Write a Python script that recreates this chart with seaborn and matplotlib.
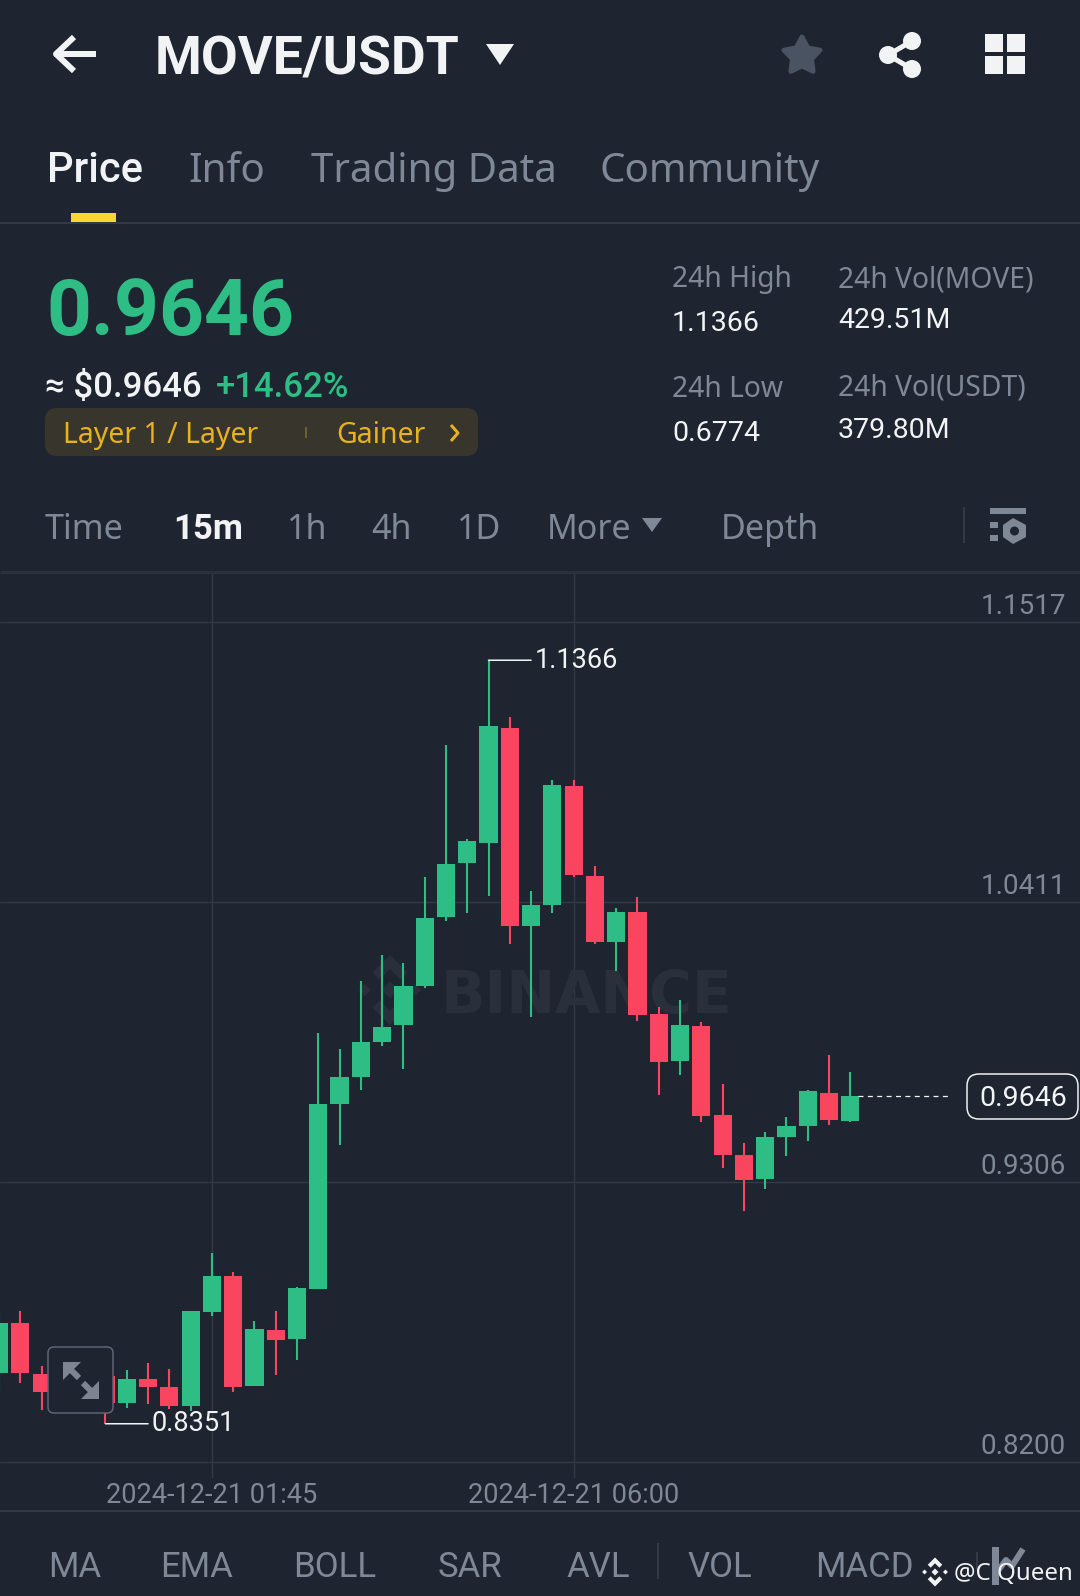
import matplotlib
matplotlib.use("Agg")
import matplotlib.pyplot as plt
import numpy as np
import pandas as pd
import seaborn as sns
from matplotlib.patches import FancyBboxPatch, Polygon, Rectangle, Circle
from matplotlib.transforms import ScaledTranslation

# 15m candles, values (index 3 and 4 sit behind the expand button)
opens = [0.8553, 0.8748, 0.8546, 0.8478, 0.8440, 0.8540, 0.8432, 0.8527, 0.8495, 0.8422,
         0.8791, 0.8934, 0.8500, 0.8722, 0.8687, 0.8884, 0.9612, 0.9721, 0.9860, 0.9924,
         1.0080, 1.0351, 1.0567, 1.0643, 1.1100, 1.0318, 1.0398, 1.0868, 1.0514, 1.0253,
         1.0371, 0.9968, 0.9782, 0.9922, 0.9570, 0.9412, 0.9316, 0.9485, 0.9528, 0.9659, 0.9546]
highs = [0.8788, 0.8796, 0.8580, 0.8520, 0.8560, 0.8590, 0.8563, 0.8592, 0.8568, 0.8797,
         0.9027, 0.8949, 0.8758, 0.8797, 0.8892, 0.9895, 0.9831, 1.0098, 1.0203, 1.0169,
         1.0509, 1.1030, 1.0659, 1.1366, 1.1143, 1.0454, 1.0892, 1.0892, 1.0553, 1.0386,
         1.0430, 0.9995, 1.0024, 0.9937, 0.9694, 0.9460, 0.9503, 0.9564, 0.9667, 0.9807, 0.9739]
lows = [0.8482, 0.8513, 0.8405, 0.8420, 0.8400, 0.8351, 0.8412, 0.8429, 0.8409, 0.8403,
        0.8777, 0.8476, 0.8500, 0.8542, 0.8603, 0.8884, 0.9451, 0.9668, 0.9844, 0.9752,
        1.0071, 1.0337, 1.0368, 1.0435, 1.0246, 0.9956, 1.0369, 1.0509, 1.0247, 1.0139,
        0.9941, 0.9648, 0.9729, 0.9543, 0.9362, 0.9191, 0.9278, 0.9410, 0.9469, 0.9531, 0.9543]
closes = [0.8748, 0.8553, 0.8478, 0.8440, 0.8520, 0.8433, 0.8528, 0.8496, 0.8422, 0.8796,
          0.8936, 0.8497, 0.8724, 0.8682, 0.8887, 0.9612, 0.9720, 0.9859, 0.9919, 1.0078,
          1.0347, 1.0563, 1.0651, 1.1105, 1.0315, 1.0401, 1.0875, 1.0517, 1.0253, 1.0371,
          0.9964, 0.9780, 0.9924, 0.9568, 0.9414, 0.9314, 0.9485, 0.9528, 0.9666, 0.9549, 0.9646]

y_ticks = [0.8200, 0.9306, 1.0411, 1.1517]
x_ticks = [10, 27]
x_labels = ["2024-12-21 01:45", "2024-12-21 06:00"]
high_idx, low_idx = 23, 5
last_price = 0.9646

tabs = ["Price", "Info", "Trading Data", "Community"]
intervals = ["Time", "15m", "1h", "4h", "1D", "More", "Depth"]
indicators = ["MA", "EMA", "BOLL", "SAR", "AVL", "VOL", "MACD"]

BG = "#1f2530"
GREEN = "#2ebd85"
RED = "#f9455f"
GRID = "#333a46"
GREY = "#7f8896"
WHITE = "#f2f3f5"
YELLOW = "#e8b21f"
NOTO = ["Noto Sans", "DejaVu Sans"]

sns.set_theme(style="darkgrid", rc={
    "figure.facecolor": BG,
    "axes.facecolor": BG,
    "grid.color": GRID,
    "grid.linewidth": 1.0,
})
plt.rcParams["font.family"] = ["Roboto", "DejaVu Sans"]

W, H = 1080, 1596
fig = plt.figure(figsize=(W / 100, H / 100), dpi=100)

# chart area in pixels: y 572..1478
ax = fig.add_axes([0, (H - 1478) / H, 1, (1478 - 572) / H])

# ui layer, plain pixel coordinates
ui = fig.add_axes([0, 0, 1, 1], zorder=5)
ui.set_xlim(0, W)
ui.set_ylim(H, 0)
ui.axis("off")


def txt(x, y, s, size=20, color=GREY, weight="normal", ha="left", va="baseline", **kw):
    ui.text(x, y, s, fontsize=size, color=color, fontweight=weight, ha=ha, va=va, **kw)


def line(xs, ys, color=GRID, px=2, **kw):
    ui.plot(xs, ys, color=color, lw=px * 0.72, solid_capstyle="butt", **kw)


def round_box(x0, y0, x1, y1, r, face, edge="none", px=0):
    ui.add_patch(FancyBboxPatch((x0, y0), x1 - x0, y1 - y0, boxstyle=f"round,pad=0,rounding_size={r}",
                                fc=face, ec=edge, lw=px * 0.72))


def logo(target, cx, cy, s, color, **kw):
    # binance mark from small diamonds
    for dx, dy, r in [(0, 0, 0.24), (-0.72, 0, 0.17), (0.72, 0, 0.17)]:
        x, y = cx + dx * s, cy + dy * s
        r = r * s
        target.add_patch(Polygon([(x - r, y), (x, y - r), (x + r, y), (x, y + r)], fc=color, ec="none", **kw))
    for sgn in (-1, 1):
        pts = [(cx - 0.5 * s, cy + sgn * 0.5 * s), (cx, cy + sgn * 1.0 * s), (cx + 0.5 * s, cy + sgn * 0.5 * s),
               (cx + 0.3 * s, cy + sgn * 0.3 * s), (cx, cy + sgn * 0.6 * s), (cx - 0.3 * s, cy + sgn * 0.3 * s)]
        target.add_patch(Polygon(pts, fc=color, ec="none", **kw))


# ---- candles
df = pd.DataFrame({"idx": range(len(opens)), "open": opens, "high": highs, "low": lows, "close": closes})
df["up"] = df["close"] >= df["open"]
df["body"] = (df["close"] - df["open"]).abs()
df["base"] = df[["open", "close"]].min(axis=1)

ax.vlines(df["idx"][df["up"]], df["low"][df["up"]], df["high"][df["up"]], color=GREEN, lw=1.5, zorder=2)
ax.vlines(df["idx"][~df["up"]], df["low"][~df["up"]], df["high"][~df["up"]], color=RED, lw=1.5, zorder=2)
for up, col in [(True, GREEN), (False, RED)]:
    part = df[df["up"] == up]
    sns.barplot(data=part, x="idx", y="body", bottom=part["base"].values, native_scale=True, color=col,
                saturation=1, width=0.855, linewidth=0, errorbar=None, ax=ax, zorder=3)

ax.set_xlim(0.0423, 50.795)
ax.set_ylim(0.81368, 1.17144)
ax.set_axisbelow(True)
ax.set_xticks(x_ticks, x_labels)
ax.set_yticks(y_ticks, [f"{v:.4f}" for v in y_ticks])
ax.set_xlabel("")
ax.set_ylabel("")
ax.tick_params(axis="x", length=0, pad=3, labelsize=19.5, labelcolor=GREY)
ax.tick_params(axis="y", length=0, labelleft=False, labelright=True, pad=-10, labelsize=20, labelcolor=GREY)
for t in ax.get_yticklabels():
    t.set_ha("right")
    t.set_va("bottom")
    t.set_transform(t.get_transform() + ScaledTranslation(0, 2 / 100, fig.dpi_scale_trans))
for s in ax.spines.values():
    s.set_visible(False)

# watermark sits under the candles
ax.text(441, 1013, "BINANCE", transform=ui.transData, fontsize=42, fontweight="bold", color="#2a303b",
        family="DejaVu Sans", zorder=1)
logo(ax, 390, 990, 35, "#2a303b", transform=ui.transData, zorder=1)

# high / low callouts
ax.annotate("1.1366", xy=(high_idx, highs[high_idx]), xytext=(33, 0), textcoords="offset points",
            color=WHITE, fontsize=19.5, va="center", arrowprops=dict(arrowstyle="-", color=WHITE, lw=1.1, shrinkA=0, shrinkB=0), zorder=4)
ax.annotate("0.8351", xy=(low_idx, lows[low_idx]), xytext=(33, 0), textcoords="offset points",
            color=WHITE, fontsize=19.5, va="center", arrowprops=dict(arrowstyle="-", color=WHITE, lw=1.1, shrinkA=0, shrinkB=0), zorder=4)

# last price, dashed line and box
ax.hlines(last_price, 40.35, 44.7, color=WHITE, lw=0.9, linestyles=(0, (4, 3.5)), zorder=4)
round_box(967, 1074, 1078, 1119, 12, BG, WHITE, 1.5)
txt(1023, 1098, "0.9646", 20.5, WHITE, ha="center", va="center")

# expand button over the candles
round_box(48, 1347, 113, 1413, 6, BG, "#5f6673", 1.5)
ui.add_patch(Polygon([(63, 1362), (81, 1362), (63, 1380)], fc="#7d8492", ec="none"))
ui.add_patch(Polygon([(99, 1399), (81, 1399), (99, 1381)], fc="#7d8492", ec="none"))
line([70, 79], [1369, 1378], "#7d8492", 6)
line([83, 92], [1383, 1392], "#7d8492", 6)

# ---- header
line([96, 56, 74], [54, 54, 37], WHITE, 6)
line([56, 74], [54, 71], WHITE, 6)
txt(155, 75, "MOVE/USDT", 38.5, WHITE, "bold")
ui.add_patch(Polygon([(486, 44), (514, 44), (500, 65)], fc=WHITE, ec="none"))
# star icon with a rounded outline
ang = np.radians(np.arange(10) * 36 - 90)
rad = np.where(np.arange(10) % 2 == 0, 19, 10)
ui.add_patch(Polygon(np.c_[802 + rad * np.cos(ang), 56 + rad * np.sin(ang)], fc="#4a5362", ec="#4a5362",
                     lw=3.5, joinstyle="round"))
for cx, cy in [(912, 41), (888, 55), (912, 69)]:
    ui.add_patch(Circle((cx, cy), 9, fc=WHITE, ec="none"))
line([912, 888, 912], [41, 55, 69], WHITE, 5)
for x0, y0 in [(985, 34), (1007, 34), (985, 56), (1007, 56)]:
    ui.add_patch(Rectangle((x0, y0), 18, 18, fc=WHITE, ec="none"))

txt(47, 182, tabs[0], 30, WHITE, "medium")
for x, s in zip([188, 311, 599], tabs[1:]):
    txt(x, 182, s, 29, GREY, family=NOTO)
line([0, W], [222.5, 222.5], GRID, 2)
ui.add_patch(Rectangle((71, 213), 45, 9, fc="#fcd535", ec="none"))

# ---- price block
txt(46, 335, "0.9646", 56.5, GREEN, "bold")
txt(45, 397, "≈ $0.9646", 25, WHITE, "medium")
txt(216, 397, "+14.62%", 25, GREEN, "medium")
round_box(45, 408, 478, 456, 12, "#38362c")
txt(63, 443, "Layer 1 / Layer", 20.5, YELLOW, family=NOTO)
txt(336, 443, "Gainer", 20.5, YELLOW, family=NOTO)
line([306, 306], [427, 438], "#6e5f26", 2)
line([451, 458, 451], [425, 433, 441], YELLOW, 3)

for x, y, s in [(672, 287, "24h High"), (838, 287, "24h Vol(MOVE)"),
                (672, 397, "24h Low"), (838, 396, "24h Vol(USDT)")]:
    txt(x, y, s, 20.3, GREY, family=NOTO)
for x, y, s in [(672, 331, "1.1366"), (838, 328, "429.51M"), (672, 441, "0.6774"), (838, 438, "379.80M")]:
    txt(x, y, s, 20.5, WHITE)

# ---- interval row
for x, s in zip([45, 173, 287, 371, 457, 547, 721], intervals):
    if s == "15m":
        txt(x, 539, s, 25, WHITE, "bold")
    else:
        txt(x, 539, s, 24.5, GREY, family=NOTO)
ui.add_patch(Polygon([(642, 518), (662, 518), (652, 532)], fc=GREY, ec="none"))
line([964, 964], [507, 543], GRID, 2)
ui.add_patch(Rectangle((990, 508), 36, 6, fc=GREY, ec="none"))
ui.add_patch(Rectangle((990, 522), 8, 6, fc=GREY, ec="none"))
ui.add_patch(Rectangle((990, 535), 8, 6, fc=GREY, ec="none"))
ui.add_patch(Polygon([(1013, 518), (1026, 525), (1026, 537), (1013, 544), (1003, 537), (1003, 525)], fc=GREY, ec="none"))
ui.add_patch(Circle((1014.5, 531), 4.5, fc=BG, ec="none"))
line([0, W], [572, 572], "#2b313c", 3)

# ---- footer
line([0, W], [1510.5, 1510.5], GRID, 2)
for x, s in zip([48, 160, 293, 438, 566, 688, 815], indicators):
    txt(x, 1577, s, 25, GREY)
line([658, 658], [1543, 1579], GRID, 2)
line([977, 977], [1552, 1570], GRID, 2)
ui.add_patch(Rectangle((992, 1547), 7, 38, fc=GREY, ec="none"))
line([997, 1006, 1012, 1023], [1572, 1560, 1566, 1549], GREY, 6)
logo(ui, 935, 1572, 14.5, WHITE)
txt(954, 1580, "@C Queen", 17.3, WHITE, family=NOTO)

fig.savefig("out.png", dpi=100, facecolor=BG)
